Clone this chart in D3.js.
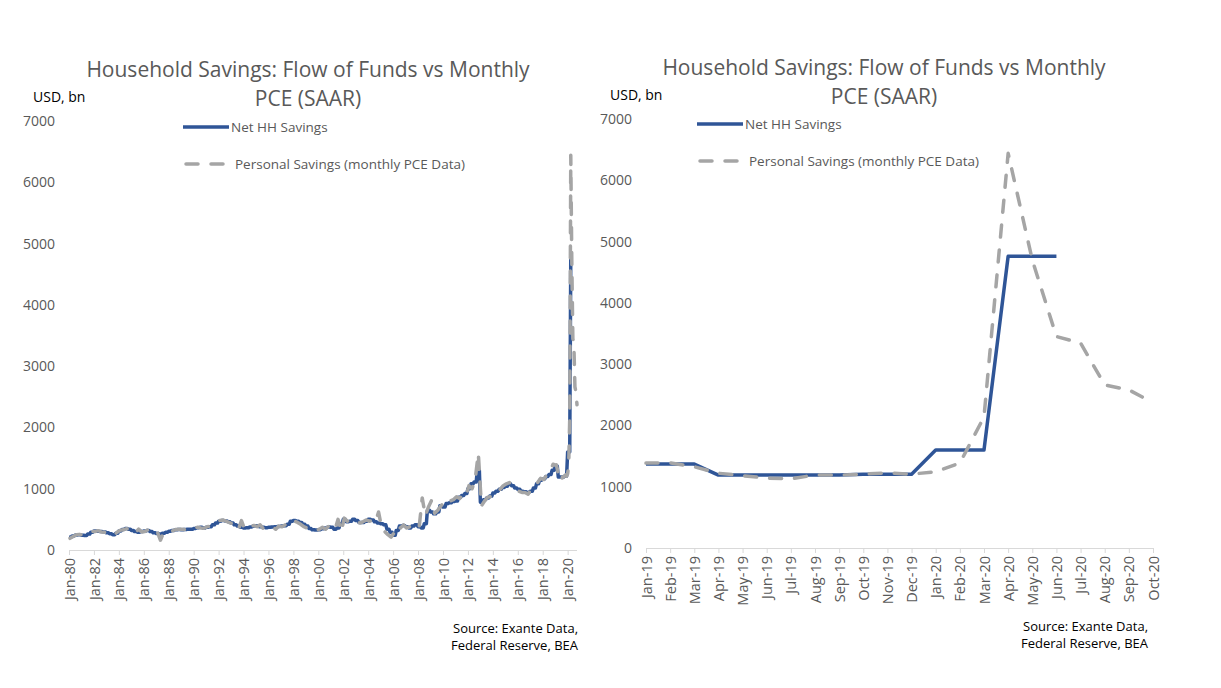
<!DOCTYPE html>
<html>
<head>
<meta charset="utf-8">
<script src="https://cdn.jsdelivr.net/npm/d3@7"></script>
<style>
body{margin:0;background:#fff;}
text{font-family:"Open Sans","Noto Sans",sans-serif;}
</style>
</head>
<body>
<svg id="screen" width="1221" height="688"></svg>
<script>
// Net HH Savings (Flow of Funds), quarterly, 1980Q1 .. 2020Q2, USD bn SAAR
var netHHQuarterly = [
  207,230,245,250,  240,235,260,290,  310,305,300,295,  280,265,250,275,
  310,335,350,340,  320,300,290,300,  310,320,300,280,  270,260,275,290,
  305,320,330,335,  330,335,340,340,  350,365,370,360,  370,380,410,440,
  470,480,475,460,  440,410,390,370,  360,365,375,390,  395,380,370,365,
  370,375,380,385,  390,395,420,470,  480,470,450,420,  390,350,330,325,
  330,345,360,375,  370,340,360,430,  500,460,470,500,  480,450,450,470,
  500,490,460,440,  430,410,340,290,  240,320,390,400,  380,360,390,410,
  380,360,430,650,  620,590,620,720,  700,760,770,790,  800,860,890,920,
  1000,1080,1110,1300, 780,820,850,880, 930,960,990,1020, 1040,1080,1050,1010,
  990,960,950,940,  960,1010,1080,1140, 1160,1200,1230,1300, 1370,1190,1190,1205,
  1600,4760
];

// Personal Savings (PCE data), quarterly readings 1980Q1 .. 2018Q4
var pceQuarterly = [
  190,220,250,255,  245,240,270,300,  300,315,295,290,  270,250,240,285,
  320,330,345,350,  330,280,340,295,  300,330,300,270,  300,160,280,300,
  310,315,335,340,  340,330,340,335,  360,370,360,355,  380,390,420,450,
  480,490,470,450,  430,400,330,480,  340,370,390,400,  380,410,350,360,
  380,370,340,390,  380,410,470,490,  470,450,420,380,  360,340,320,320,
  340,370,340,390,  350,330,500,300,  520,470,500,480,  470,440,460,490,
  470,480,450,620,  360,300,250,210,  280,400,360,410,  360,380,410,380,
  360,850,560,700,  810,600,650,720,  780,740,800,820,  870,840,900,870,
  1050,1000,1150,1580, 720,800,860,870, 940,980,990,1050, 1080,1100,1040,990,
  960,940,940,910,  1000,1050,1100,1170, 1150,1230,1280,1400
];

// Personal Savings (PCE data), monthly Jan-19 .. Oct-20
var pceMonthly = [1385,1390,1325,1220,1180,1140,1130,1190,1190,1205,1225,1205,
                  1245,1385,2140,6440,4700,3450,3345,2660,2580,2370];

var yTicks = [0,1000,2000,3000,4000,5000,6000,7000];
var titleLines = ["Household Savings: Flow of Funds vs Monthly", "PCE (SAAR)"];
var unitLabel = "USD, bn";
var seriesNames = ["Net HH Savings", "Personal Savings (monthly PCE Data)"];
var sourceLines = ["Source: Exante Data,", "Federal Reserve, BEA"];

var blue = "#2F5597", grey = "#A5A5A5", textGrey = "#595959";

// month index counted from Jan-80
var netHH = [];
netHHQuarterly.forEach(function(v, q){
  for (var k = 0; k < 3; k++) netHH.push({m: q*3 + k, v: v});
});
var pce = [];
pceQuarterly.forEach(function(v, q){ pce.push({m: q*3 + 1, v: v}); });
pceMonthly.forEach(function(v, i){ pce.push({m: 468 + i, v: v}); });

function monthDate(m){ return new Date(1980, m, 1); }
var fmt = d3.timeFormat("%b-%y");

var svg = d3.select("#screen");

function drawPanel(p){
  var g = svg.append("g");
  var x = d3.scaleLinear().domain([p.m0, p.m1]).range([p.left, p.right]);
  var y = d3.scaleLinear().domain([0, 7000]).range([p.bottom, p.top]);

  // title
  g.selectAll("text.title").data(titleLines).enter().append("text")
    .attr("x", p.titleX).attr("y", function(d, i){ return p.titleY + i*29; })
    .attr("text-anchor", "middle").attr("font-size", 21).attr("fill", textGrey)
    .text(function(d){ return d; });

  g.append("text").attr("x", p.unitX).attr("y", p.titleY + 25)
    .attr("font-size", 14).attr("fill", "#000").text(unitLabel);

  // y axis labels
  var ya = d3.axisLeft(y).tickValues(yTicks).tickSize(0).tickPadding(14)
    .tickFormat(d3.format("d"));
  g.append("g").attr("transform", "translate(" + p.left + ",0)").call(ya)
    .call(function(s){ s.select(".domain").remove(); })
    .selectAll("text").attr("font-size", 14).attr("fill", textGrey)
    .attr("font-family", "'Open Sans', sans-serif");

  // x axis
  var xa = d3.axisBottom(x).tickValues(p.tickMonths).tickSize(5).tickPadding(4)
    .tickFormat(function(m){ return fmt(monthDate(m)); });
  var xg = g.append("g").attr("transform", "translate(0," + p.bottom + ")").call(xa);
  xg.select(".domain").attr("stroke", "#D9D9D9").attr("stroke-width", 1)
    .attr("d", "M" + p.left + ",0.5H" + p.right);
  xg.selectAll(".tick line").attr("stroke", "#D9D9D9");
  xg.selectAll("text").attr("font-size", 14.5).attr("fill", textGrey)
    .attr("font-family", "'Open Sans', sans-serif")
    .attr("text-anchor", "end").attr("transform", "rotate(-90)")
    .attr("x", -8).attr("y", 0).attr("dy", "0.35em");

  var line = d3.line().x(function(d){ return x(d.m); }).y(function(d){ return y(d.v); });

  g.append("path").datum(netHH.filter(function(d){ return d.m >= p.m0; }))
    .attr("d", line).attr("fill", "none").attr("stroke", blue)
    .attr("stroke-width", 3.5).attr("stroke-linejoin", "round");
  g.append("path").datum(pce.filter(function(d){ return d.m >= p.m0; }))
    .attr("d", line).attr("fill", "none").attr("stroke", grey)
    .attr("stroke-width", 3.5).attr("stroke-linejoin", "round")
    .attr("stroke-linecap", "round").attr("stroke-dasharray", "12,13");

  // legend
  var lg = g.append("g").attr("transform", "translate(" + p.legX + "," + p.legY + ")");
  lg.append("line").attr("x1", 0).attr("x2", 46).attr("y1", 0).attr("y2", 0)
    .attr("stroke", blue).attr("stroke-width", 3.5);
  lg.append("line").attr("x1", 3).attr("x2", 44).attr("y1", 37).attr("y2", 37)
    .attr("stroke", grey).attr("stroke-width", 3.5).attr("stroke-linecap", "round")
    .attr("stroke-dasharray", "12,13");
  lg.selectAll("text").data(seriesNames).enter().append("text")
    .attr("x", function(d, i){ return i ? 52 : 48; }).attr("y", function(d, i){ return i*37; })
    .attr("dy", "0.35em").attr("font-size", 13.5).attr("fill", textGrey)
    .text(function(d){ return d; });

  // source
  g.selectAll("text.src").data(sourceLines).enter().append("text")
    .attr("x", p.srcX).attr("y", function(d, i){ return p.srcY + i*17; })
    .attr("text-anchor", "end").attr("font-size", 13).attr("fill", "#000")
    .text(function(d){ return d; });
}

drawPanel({m0: 0, m1: 489, left: 69, right: 577, bottom: 550, top: 121,
  tickMonths: d3.range(0, 481, 24), titleX: 308, titleY: 77, unitX: 33,
  legX: 183, legY: 127, srcX: 578, srcY: 633});

drawPanel({m0: 468, m1: 489, left: 646, right: 1153, bottom: 548, top: 119,
  tickMonths: d3.range(468, 490, 1), titleX: 884, titleY: 75, unitX: 610,
  legX: 697, legY: 124, srcX: 1148, srcY: 631});
</script>
</body>
</html>
